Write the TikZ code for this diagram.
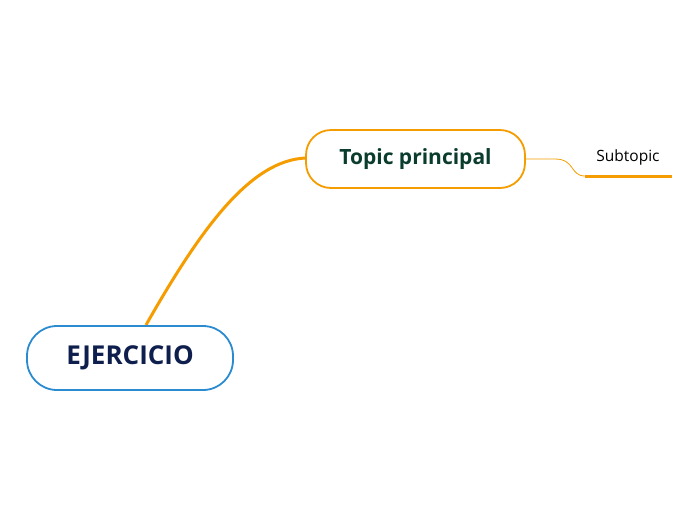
\documentclass[tikz,border=0pt]{standalone}
\usepackage{fontspec}
\setmainfont{Open Sans}
\begin{document}
\begin{tikzpicture}[x=1pt,y=-1pt,
  mainbox/.style={draw=mblue, line width=1.8pt, rounded corners=30pt, fill=white, minimum width=206pt, minimum height=64pt, font=\bfseries\fontsize{26}{30}\selectfont, text=mtext},
  topicbox/.style={draw=morange, line width=1.8pt, rounded corners=25pt, fill=white, minimum width=219pt, minimum height=58pt, font=\bfseries\fontsize{21}{25}\selectfont, text=ttext},
  subbox/.style={font=\fontsize{15.5}{18}\selectfont, inner sep=2pt}]
\definecolor{morange}{HTML}{F59D00}
\definecolor{mblue}{HTML}{2B8BD0}
\definecolor{mtext}{HTML}{0E1F4D}
\definecolor{ttext}{HTML}{0B3D2E}
\useasboundingbox (0,0) rectangle (696,520);
\draw[morange, line width=3pt] (146,325) .. controls (200,230) and (250,160) .. (306,158);
\node[mainbox] (m) at (130,358) {EJERCICIO};
\node[topicbox] (t) at (415.5,159) {Topic principal};
\node[subbox] (s) at (628,157) {Subtopic};
\coordinate (sl) at (585,176);
\coordinate (sr) at (672,176);
\draw[morange, line width=0.8pt] (t.east) -- (555,159) .. controls (575,159) and (570,176) .. (sl);
\draw[morange, line width=3pt] (sl) -- (sr);
\end{tikzpicture}
\end{document}
